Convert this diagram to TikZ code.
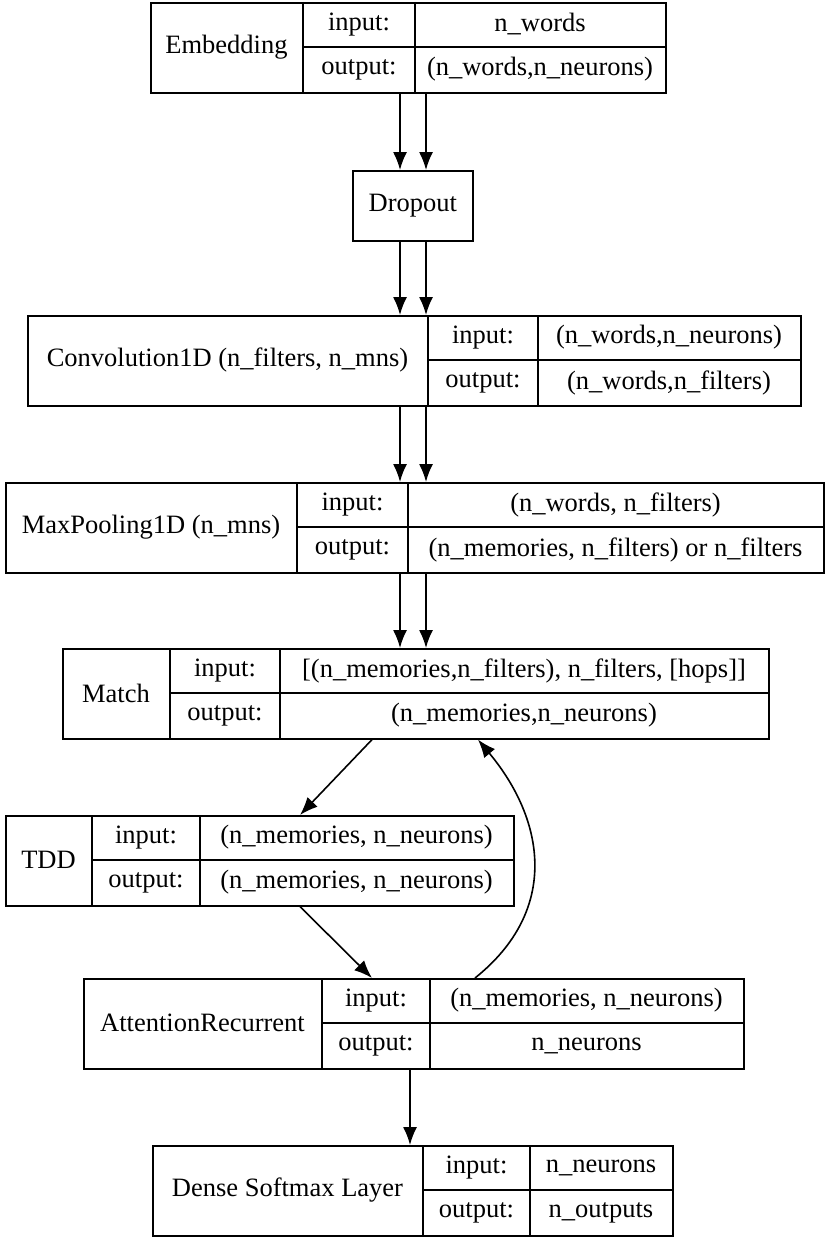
\documentclass[tikz,border=0pt]{standalone}
\usepackage{fontspec}
\setmainfont{Liberation Serif}
\usetikzlibrary{arrows.meta}
\begin{document}
\begin{tikzpicture}[x=1pt,y=-1pt,line width=1.6pt,
  box/.style={draw,inner sep=0pt},
  txt/.style={font=\fontsize{26.5}{30}\selectfont,inner sep=0pt},
  arr/.style={-{Latex[length=18pt,width=14pt]}}]
\useasboundingbox (0,0) rectangle (825,1239);
% record macro: name, left, top, right, bottom, d1, d2, title, in, out
\newcommand\rec[9]{%
  \node[box,minimum width={#4-#2},minimum height=90,anchor=north west] (#1) at (#2,#3) {};
  \draw (#5,#3) -- (#5,#3+90) (#6,#3) -- (#6,#3+90) (#5,#3+45) -- (#4,#3+45);
  \node[txt] (#1t) at ({(#2+#5)/2},#3+45) {#7};
  \node[txt] (#1i) at ({(#5+#6)/2},#3+22.5) {input:};
  \node[txt] (#1o) at ({(#5+#6)/2},#3+67.5) {output:};
  \node[txt] (#1a) at ({(#6+#4)/2},#3+22.5) {#8};
  \node[txt] (#1b) at ({(#6+#4)/2},#3+67.5) {#9};}
\rec{emb}{150}{2}{665}{303}{415}{Embedding}{n\_words}{(n\_words,n\_neurons)}
\node[box,txt,draw,minimum width=120,minimum height=70,anchor=north west] (drop) at (352,170) {Dropout};
\rec{conv}{27}{315}{800}{428}{538}{Convolution1D (n\_filters, n\_mns)}{(n\_words,n\_neurons)}{(n\_words,n\_filters)}
\rec{pool}{5}{482}{823}{297}{408}{MaxPooling1D (n\_mns)}{(n\_words, n\_filters)}{(n\_memories, n\_filters) or n\_filters}
\rec{match}{62}{648}{768}{170}{280}{Match}{[(n\_memories,n\_filters), n\_filters, [hops]]}{(n\_memories,n\_neurons)}
\rec{tdd}{5}{815}{513}{92}{200}{TDD}{(n\_memories, n\_neurons)}{(n\_memories, n\_neurons)}
\rec{att}{83}{978}{743}{322}{430}{AttentionRecurrent}{(n\_memories, n\_neurons)}{n\_neurons}
\rec{dense}{152}{1145}{672}{423}{530}{Dense Softmax Layer}{n\_neurons}{n\_outputs}
\foreach \a/\b in {emb/drop,drop/conv,conv/pool,pool/match}{
  \draw[arr] (\a.south -| 400,0) -- (\b.north -| 400,0);
  \draw[arr] (\a.south -| 426,0) -- (\b.north -| 426,0);}
\draw[arr] (match.south -| 372,0) -- (tdd.north -| 300,0);
\draw[arr] (tdd.south -| 300,0) -- (att.north -| 372,0);
\draw[arr] (att.north -| 475,0) .. controls (560,910) and (545,820) .. (match.south -| 478,0);
\draw[arr] (att.south -| 410,0) -- (dense.north -| 410,0);
\end{tikzpicture}
\end{document}
